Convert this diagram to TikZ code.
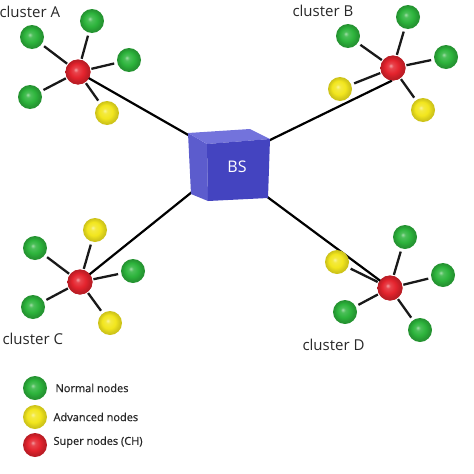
\documentclass[tikz,border=0pt]{standalone}
\usepackage{fontspec}
\setmainfont{Open Sans}
\newfontfamily\legfont{Open Sans}[FakeBold=0.6]
\definecolor{gcol}{RGB}{45,180,60}
\definecolor{ycol}{RGB}{242,230,30}
\definecolor{rcol}{RGB}{228,35,45}
\definecolor{cubeL}{RGB}{92,92,205}
\definecolor{cubeF}{RGB}{68,68,192}
\definecolor{cubeT}{RGB}{115,115,220}
\definecolor{txt}{RGB}{40,40,40}
\pgfdeclareradialshading{gshade}{\pgfpoint{-5bp}{5bp}}{color(0bp)=(gcol!45!white); color(5bp)=(gcol!85!white); color(14bp)=(gcol); color(21bp)=(gcol!85!black); color(30bp)=(gcol!75!black)}
\pgfdeclareradialshading{yshade}{\pgfpoint{-5bp}{5bp}}{color(0bp)=(ycol!45!white); color(5bp)=(ycol!85!white); color(14bp)=(ycol); color(21bp)=(ycol!88!black); color(30bp)=(ycol!78!black)}
\pgfdeclareradialshading{rshade}{\pgfpoint{-5bp}{5bp}}{color(0bp)=(rcol!45!white); color(5bp)=(rcol!85!white); color(14bp)=(rcol); color(21bp)=(rcol!85!black); color(30bp)=(rcol!75!black)}
\tikzset{
  ball/.style={circle, inner sep=0pt, minimum size=24pt},
  gnode/.style={ball, shading=gshade},
  ynode/.style={ball, shading=yshade},
  rnode/.style={ball, shading=rshade, minimum size=25pt},
  link/.style={line width=2.3pt, black!90, shorten >=3pt, shorten <=1pt},
  uplink/.style={line width=2.2pt, black},
  clabel/.style={font=\fontsize{15}{17}\selectfont, text=txt, anchor=west},
  llabel/.style={font=\legfont\fontsize{11}{13}\selectfont, text=black!85, anchor=west}
}
\begin{document}
\begin{tikzpicture}[x=1pt,y=-1pt]
\useasboundingbox (0,0) rectangle (474,474);
% cube
\coordinate (c1) at (188,133);
\coordinate (c2) at (250,129);
\coordinate (c3) at (270,139);
\coordinate (c4) at (207,144);
\coordinate (c5) at (268,198);
\coordinate (c6) at (208,201);
\coordinate (c7) at (191,194);
% uplinks (under everything)
\node[rnode] (A) at (78,72) {};
\node[rnode] (B) at (393,68) {};
\node[rnode] (C) at (80,282) {};
\node[rnode] (D) at (390,288) {};
\coordinate (bA) at (190,136);
\coordinate (bB) at (268,141);
\coordinate (bC) at (192,192);
\coordinate (bD) at (266,196);
\draw[uplink] (A.center) -- (bA);
\draw[uplink] (B.265) -- (bB);
\draw[uplink] (C.center) -- (bC);
\draw[uplink] (D.center) -- (bD);
\fill[cubeL] (c1) -- (c4) -- (c6) -- (c7) -- cycle;
\fill[cubeT] (c1) -- (c2) -- (c3) -- (c4) -- cycle;
\fill[cubeF] (c4) -- (c3) -- (c5) -- (c6) -- cycle;
\node[text=white, font=\fontsize{16}{18}\selectfont] (bs) at (237,167) {BS};
% redraw CH on top
\node[rnode] at (A) {};
\node[rnode] at (B) {};
\node[rnode] at (C) {};
\node[rnode] at (D) {};
% cluster A
\node[gnode] (a1) at (92,21) {};
\node[gnode] (a2) at (32,37) {};
\node[gnode] (a3) at (129,60) {};
\node[gnode] (a4) at (30,97) {};
\node[ynode] (a5) at (107,113) {};
\foreach \n in {a1,a2,a3,a4,a5} \draw[link] (A) -- (\n);
% cluster B
\node[gnode] (b1) at (408,17) {};
\node[gnode] (b2) at (348,36) {};
\node[gnode] (b3) at (446,57) {};
\node[ynode] (b4) at (340,89) {};
\node[ynode] (b5) at (423,110) {};
\foreach \n in {b1,b2,b3,b4,b5} \draw[link] (B) -- (\n);
% cluster C
\node[gnode] (c1n) at (35,248) {};
\node[gnode] (c2n) at (133,271) {};
\node[gnode] (c3n) at (33,307) {};
\node[ynode] (c4n) at (95,230) {};
\node[ynode] (c5n) at (110,323) {};
\foreach \n in {c1n,c2n,c3n,c4n,c5n} \draw[link] (C) -- (\n);
% cluster D
\node[gnode] (d1) at (405,237) {};
\node[gnode] (d2) at (443,275) {};
\node[gnode] (d3) at (345,312) {};
\node[gnode] (d4) at (420,330) {};
\node[ynode] (d5) at (337,262) {};
\foreach \n in {d1,d2,d3,d4,d5} \draw[link] (D) -- (\n);
% labels
\node[clabel] (la) at (-4,12) {cluster A};
\node[clabel] (lb) at (289,11) {cluster B};
\node[clabel] (lc) at (-1,339) {cluster C};
\node[clabel] (ld) at (299,345) {cluster D};
% legend
\node[gnode] (lg1) at (35,388) {};
\node[ynode] (lg2) at (35,417) {};
\node[rnode, minimum size=24pt] (lg3) at (35,445) {};
\node[llabel] (lt1) at (52,388) {Normal nodes};
\node[llabel] (lt2) at (50,417) {Advanced nodes};
\node[llabel] (lt3) at (50,442) {Super nodes (CH)};
\end{tikzpicture}
\end{document}
